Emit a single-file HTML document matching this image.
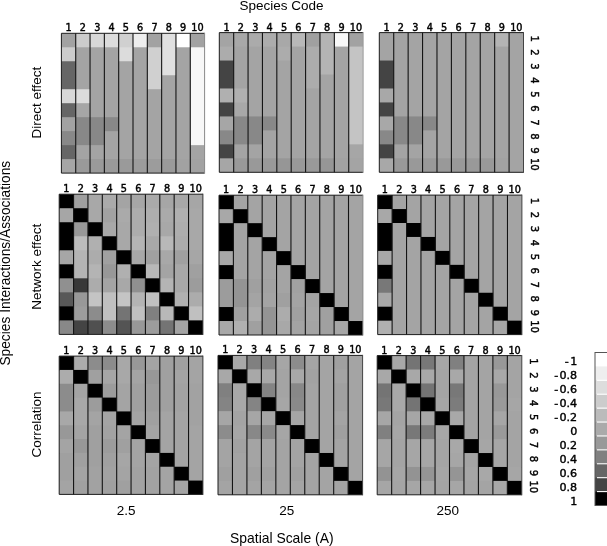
<!DOCTYPE html>
<html><head><meta charset="utf-8"><title>Species interactions heatmaps</title>
<style>
html,body{margin:0;padding:0;background:#fff;}
body{width:607px;height:546px;overflow:hidden;}
svg{display:block;}
text{fill:#000;}
</style></head><body>
<svg width="607" height="546" viewBox="0 0 607 546">
<rect width="607" height="546" fill="#fff"/>
<g>
<rect x="61.40" y="33.30" width="15.32" height="14.98" fill="#a2a2a2"/>
<rect x="61.40" y="47.28" width="15.32" height="14.98" fill="#cccccc"/>
<rect x="61.40" y="61.26" width="15.32" height="28.96" fill="#666666"/>
<rect x="61.40" y="89.22" width="15.32" height="14.98" fill="#d8d8d8"/>
<rect x="61.40" y="103.20" width="15.32" height="14.98" fill="#666666"/>
<rect x="61.40" y="117.18" width="15.32" height="14.98" fill="#a2a2a2"/>
<rect x="61.40" y="131.16" width="15.32" height="14.98" fill="#888888"/>
<rect x="61.40" y="145.14" width="15.32" height="14.98" fill="#666666"/>
<rect x="61.40" y="159.12" width="15.32" height="13.98" fill="#a6a6a6"/>
<rect x="75.72" y="33.30" width="15.32" height="14.98" fill="#cccccc"/>
<rect x="75.72" y="47.28" width="15.32" height="42.94" fill="#a4a4a4"/>
<rect x="75.72" y="89.22" width="15.32" height="14.98" fill="#dcdcdc"/>
<rect x="75.72" y="103.20" width="15.32" height="14.98" fill="#a6a6a6"/>
<rect x="75.72" y="117.18" width="15.32" height="28.96" fill="#888888"/>
<rect x="75.72" y="145.14" width="15.32" height="14.98" fill="#a4a4a4"/>
<rect x="75.72" y="159.12" width="15.32" height="13.98" fill="#9a9a9a"/>
<rect x="90.04" y="33.30" width="15.32" height="14.98" fill="#d8d8d8"/>
<rect x="90.04" y="47.28" width="15.32" height="70.90" fill="#a4a4a4"/>
<rect x="90.04" y="117.18" width="15.32" height="28.96" fill="#888888"/>
<rect x="90.04" y="145.14" width="15.32" height="14.98" fill="#a4a4a4"/>
<rect x="90.04" y="159.12" width="15.32" height="13.98" fill="#9a9a9a"/>
<rect x="104.36" y="33.30" width="15.32" height="14.98" fill="#dcdcdc"/>
<rect x="104.36" y="47.28" width="15.32" height="70.90" fill="#a4a4a4"/>
<rect x="104.36" y="117.18" width="15.32" height="14.98" fill="#888888"/>
<rect x="104.36" y="131.16" width="15.32" height="28.96" fill="#a4a4a4"/>
<rect x="104.36" y="159.12" width="15.32" height="13.98" fill="#9a9a9a"/>
<rect x="118.68" y="33.30" width="15.32" height="14.98" fill="#d0d0d0"/>
<rect x="118.68" y="47.28" width="15.32" height="14.98" fill="#dcdcdc"/>
<rect x="118.68" y="61.26" width="15.32" height="98.86" fill="#a4a4a4"/>
<rect x="118.68" y="159.12" width="15.32" height="13.98" fill="#9a9a9a"/>
<rect x="133.00" y="33.30" width="15.32" height="14.98" fill="#eeeeee"/>
<rect x="133.00" y="47.28" width="15.32" height="112.84" fill="#a4a4a4"/>
<rect x="133.00" y="159.12" width="15.32" height="13.98" fill="#9c9c9c"/>
<rect x="147.32" y="33.30" width="15.32" height="14.98" fill="#a2a2a2"/>
<rect x="147.32" y="47.28" width="15.32" height="42.94" fill="#d0d0d0"/>
<rect x="147.32" y="89.22" width="15.32" height="70.90" fill="#a4a4a4"/>
<rect x="147.32" y="159.12" width="15.32" height="13.98" fill="#9c9c9c"/>
<rect x="161.64" y="33.30" width="15.32" height="42.94" fill="#e0e0e0"/>
<rect x="161.64" y="75.24" width="15.32" height="84.88" fill="#a4a4a4"/>
<rect x="161.64" y="159.12" width="15.32" height="13.98" fill="#9a9a9a"/>
<rect x="175.96" y="33.30" width="15.32" height="14.98" fill="#ffffff"/>
<rect x="175.96" y="47.28" width="15.32" height="112.84" fill="#a4a4a4"/>
<rect x="175.96" y="159.12" width="15.32" height="13.98" fill="#a2a2a2"/>
<rect x="190.28" y="33.30" width="14.32" height="14.98" fill="#a2a2a2"/>
<rect x="190.28" y="47.28" width="14.32" height="98.86" fill="#f7f7f7"/>
<rect x="190.28" y="145.14" width="14.32" height="14.98" fill="#a4a4a4"/>
<rect x="190.28" y="159.12" width="14.32" height="13.98" fill="#a2a2a2"/>
<line x1="75.72" y1="33.30" x2="75.72" y2="173.10" stroke="#141414" stroke-width="1.1"/>
<line x1="90.04" y1="33.30" x2="90.04" y2="173.10" stroke="#141414" stroke-width="1.1"/>
<line x1="104.36" y1="33.30" x2="104.36" y2="173.10" stroke="#141414" stroke-width="1.1"/>
<line x1="118.68" y1="33.30" x2="118.68" y2="173.10" stroke="#141414" stroke-width="1.1"/>
<line x1="133.00" y1="33.30" x2="133.00" y2="173.10" stroke="#141414" stroke-width="1.1"/>
<line x1="147.32" y1="33.30" x2="147.32" y2="173.10" stroke="#141414" stroke-width="1.1"/>
<line x1="161.64" y1="33.30" x2="161.64" y2="173.10" stroke="#141414" stroke-width="1.1"/>
<line x1="175.96" y1="33.30" x2="175.96" y2="173.10" stroke="#141414" stroke-width="1.1"/>
<line x1="190.28" y1="33.30" x2="190.28" y2="173.10" stroke="#141414" stroke-width="1.1"/>
<path d="M204.60 33.30H61.40V173.10H204.60" fill="none" stroke="#1c1c1c" stroke-width="1"/>
<line x1="204.60" y1="32.80" x2="204.60" y2="173.60" stroke="#888" stroke-width="1"/>
<text transform="translate(68.56,31.40) scale(0.95,1)" text-anchor="middle" font-size="10.2" stroke="#000" stroke-width="0.45" font-family="DejaVu Sans, Liberation Sans, sans-serif">1</text>
<text transform="translate(82.88,31.40) scale(0.95,1)" text-anchor="middle" font-size="10.2" stroke="#000" stroke-width="0.45" font-family="DejaVu Sans, Liberation Sans, sans-serif">2</text>
<text transform="translate(97.20,31.40) scale(0.95,1)" text-anchor="middle" font-size="10.2" stroke="#000" stroke-width="0.45" font-family="DejaVu Sans, Liberation Sans, sans-serif">3</text>
<text transform="translate(111.52,31.40) scale(0.95,1)" text-anchor="middle" font-size="10.2" stroke="#000" stroke-width="0.45" font-family="DejaVu Sans, Liberation Sans, sans-serif">4</text>
<text transform="translate(125.84,31.40) scale(0.95,1)" text-anchor="middle" font-size="10.2" stroke="#000" stroke-width="0.45" font-family="DejaVu Sans, Liberation Sans, sans-serif">5</text>
<text transform="translate(140.16,31.40) scale(0.95,1)" text-anchor="middle" font-size="10.2" stroke="#000" stroke-width="0.45" font-family="DejaVu Sans, Liberation Sans, sans-serif">6</text>
<text transform="translate(154.48,31.40) scale(0.95,1)" text-anchor="middle" font-size="10.2" stroke="#000" stroke-width="0.45" font-family="DejaVu Sans, Liberation Sans, sans-serif">7</text>
<text transform="translate(168.80,31.40) scale(0.95,1)" text-anchor="middle" font-size="10.2" stroke="#000" stroke-width="0.45" font-family="DejaVu Sans, Liberation Sans, sans-serif">8</text>
<text transform="translate(183.12,31.40) scale(0.95,1)" text-anchor="middle" font-size="10.2" stroke="#000" stroke-width="0.45" font-family="DejaVu Sans, Liberation Sans, sans-serif">9</text>
<text transform="translate(197.44,31.40) scale(0.95,1)" text-anchor="middle" font-size="10.2" stroke="#000" stroke-width="0.45" font-family="DejaVu Sans, Liberation Sans, sans-serif">10</text>
</g>
<g>
<rect x="219.30" y="32.60" width="15.38" height="14.97" fill="#a4a4a4"/>
<rect x="219.30" y="46.57" width="15.38" height="14.97" fill="#acacac"/>
<rect x="219.30" y="60.54" width="15.38" height="28.94" fill="#444444"/>
<rect x="219.30" y="88.48" width="15.38" height="14.97" fill="#b0b0b0"/>
<rect x="219.30" y="102.45" width="15.38" height="14.97" fill="#444444"/>
<rect x="219.30" y="116.42" width="15.38" height="14.97" fill="#a6a6a6"/>
<rect x="219.30" y="130.39" width="15.38" height="14.97" fill="#888888"/>
<rect x="219.30" y="144.36" width="15.38" height="14.97" fill="#444444"/>
<rect x="219.30" y="158.33" width="15.38" height="13.97" fill="#a6a6a6"/>
<rect x="233.68" y="32.60" width="15.38" height="14.97" fill="#a8a8a8"/>
<rect x="233.68" y="46.57" width="15.38" height="42.91" fill="#a4a4a4"/>
<rect x="233.68" y="88.48" width="15.38" height="14.97" fill="#b0b0b0"/>
<rect x="233.68" y="102.45" width="15.38" height="14.97" fill="#a8a8a8"/>
<rect x="233.68" y="116.42" width="15.38" height="28.94" fill="#888888"/>
<rect x="233.68" y="144.36" width="15.38" height="14.97" fill="#a4a4a4"/>
<rect x="233.68" y="158.33" width="15.38" height="13.97" fill="#999999"/>
<rect x="248.06" y="32.60" width="15.38" height="14.97" fill="#ababab"/>
<rect x="248.06" y="46.57" width="15.38" height="70.85" fill="#a4a4a4"/>
<rect x="248.06" y="116.42" width="15.38" height="28.94" fill="#888888"/>
<rect x="248.06" y="144.36" width="15.38" height="14.97" fill="#a4a4a4"/>
<rect x="248.06" y="158.33" width="15.38" height="13.97" fill="#999999"/>
<rect x="262.44" y="32.60" width="15.38" height="14.97" fill="#acacac"/>
<rect x="262.44" y="46.57" width="15.38" height="70.85" fill="#a4a4a4"/>
<rect x="262.44" y="116.42" width="15.38" height="14.97" fill="#888888"/>
<rect x="262.44" y="130.39" width="15.38" height="28.94" fill="#a4a4a4"/>
<rect x="262.44" y="158.33" width="15.38" height="13.97" fill="#999999"/>
<rect x="276.82" y="32.60" width="15.38" height="14.97" fill="#a8a8a8"/>
<rect x="276.82" y="46.57" width="15.38" height="14.97" fill="#acacac"/>
<rect x="276.82" y="60.54" width="15.38" height="98.79" fill="#a4a4a4"/>
<rect x="276.82" y="158.33" width="15.38" height="13.97" fill="#969696"/>
<rect x="291.20" y="32.60" width="15.38" height="14.97" fill="#b8b8b8"/>
<rect x="291.20" y="46.57" width="15.38" height="112.76" fill="#a4a4a4"/>
<rect x="291.20" y="158.33" width="15.38" height="13.97" fill="#999999"/>
<rect x="305.58" y="32.60" width="15.38" height="14.97" fill="#a0a0a0"/>
<rect x="305.58" y="46.57" width="15.38" height="42.91" fill="#acacac"/>
<rect x="305.58" y="88.48" width="15.38" height="70.85" fill="#a4a4a4"/>
<rect x="305.58" y="158.33" width="15.38" height="13.97" fill="#999999"/>
<rect x="319.96" y="32.60" width="15.38" height="42.91" fill="#b4b4b4"/>
<rect x="319.96" y="74.51" width="15.38" height="84.82" fill="#a4a4a4"/>
<rect x="319.96" y="158.33" width="15.38" height="13.97" fill="#969696"/>
<rect x="334.34" y="32.60" width="15.38" height="14.97" fill="#f8f8f8"/>
<rect x="334.34" y="46.57" width="15.38" height="112.76" fill="#a4a4a4"/>
<rect x="334.34" y="158.33" width="15.38" height="13.97" fill="#a2a2a2"/>
<rect x="348.72" y="32.60" width="14.38" height="14.97" fill="#a2a2a2"/>
<rect x="348.72" y="46.57" width="14.38" height="98.79" fill="#c4c4c4"/>
<rect x="348.72" y="144.36" width="14.38" height="14.97" fill="#a6a6a6"/>
<rect x="348.72" y="158.33" width="14.38" height="13.97" fill="#a4a4a4"/>
<line x1="233.68" y1="32.60" x2="233.68" y2="172.30" stroke="#141414" stroke-width="1.1"/>
<line x1="248.06" y1="32.60" x2="248.06" y2="172.30" stroke="#141414" stroke-width="1.1"/>
<line x1="262.44" y1="32.60" x2="262.44" y2="172.30" stroke="#141414" stroke-width="1.1"/>
<line x1="276.82" y1="32.60" x2="276.82" y2="172.30" stroke="#141414" stroke-width="1.1"/>
<line x1="291.20" y1="32.60" x2="291.20" y2="172.30" stroke="#141414" stroke-width="1.1"/>
<line x1="305.58" y1="32.60" x2="305.58" y2="172.30" stroke="#141414" stroke-width="1.1"/>
<line x1="319.96" y1="32.60" x2="319.96" y2="172.30" stroke="#141414" stroke-width="1.1"/>
<line x1="334.34" y1="32.60" x2="334.34" y2="172.30" stroke="#141414" stroke-width="1.1"/>
<line x1="348.72" y1="32.60" x2="348.72" y2="172.30" stroke="#141414" stroke-width="1.1"/>
<path d="M363.10 32.60H219.30V172.30H363.10" fill="none" stroke="#1c1c1c" stroke-width="1"/>
<line x1="363.10" y1="32.10" x2="363.10" y2="172.80" stroke="#999" stroke-width="1"/>
<text transform="translate(226.49,30.50) scale(0.95,1)" text-anchor="middle" font-size="10.2" stroke="#000" stroke-width="0.45" font-family="DejaVu Sans, Liberation Sans, sans-serif">1</text>
<text transform="translate(240.87,30.50) scale(0.95,1)" text-anchor="middle" font-size="10.2" stroke="#000" stroke-width="0.45" font-family="DejaVu Sans, Liberation Sans, sans-serif">2</text>
<text transform="translate(255.25,30.50) scale(0.95,1)" text-anchor="middle" font-size="10.2" stroke="#000" stroke-width="0.45" font-family="DejaVu Sans, Liberation Sans, sans-serif">3</text>
<text transform="translate(269.63,30.50) scale(0.95,1)" text-anchor="middle" font-size="10.2" stroke="#000" stroke-width="0.45" font-family="DejaVu Sans, Liberation Sans, sans-serif">4</text>
<text transform="translate(284.01,30.50) scale(0.95,1)" text-anchor="middle" font-size="10.2" stroke="#000" stroke-width="0.45" font-family="DejaVu Sans, Liberation Sans, sans-serif">5</text>
<text transform="translate(298.39,30.50) scale(0.95,1)" text-anchor="middle" font-size="10.2" stroke="#000" stroke-width="0.45" font-family="DejaVu Sans, Liberation Sans, sans-serif">6</text>
<text transform="translate(312.77,30.50) scale(0.95,1)" text-anchor="middle" font-size="10.2" stroke="#000" stroke-width="0.45" font-family="DejaVu Sans, Liberation Sans, sans-serif">7</text>
<text transform="translate(327.15,30.50) scale(0.95,1)" text-anchor="middle" font-size="10.2" stroke="#000" stroke-width="0.45" font-family="DejaVu Sans, Liberation Sans, sans-serif">8</text>
<text transform="translate(341.53,30.50) scale(0.95,1)" text-anchor="middle" font-size="10.2" stroke="#000" stroke-width="0.45" font-family="DejaVu Sans, Liberation Sans, sans-serif">9</text>
<text transform="translate(355.91,30.50) scale(0.95,1)" text-anchor="middle" font-size="10.2" stroke="#000" stroke-width="0.45" font-family="DejaVu Sans, Liberation Sans, sans-serif">10</text>
</g>
<g>
<rect x="379.30" y="32.60" width="15.42" height="28.94" fill="#a4a4a4"/>
<rect x="379.30" y="60.54" width="15.42" height="28.94" fill="#444444"/>
<rect x="379.30" y="88.48" width="15.42" height="14.97" fill="#a8a8a8"/>
<rect x="379.30" y="102.45" width="15.42" height="14.97" fill="#444444"/>
<rect x="379.30" y="116.42" width="15.42" height="14.97" fill="#a8a8a8"/>
<rect x="379.30" y="130.39" width="15.42" height="14.97" fill="#888888"/>
<rect x="379.30" y="144.36" width="15.42" height="14.97" fill="#444444"/>
<rect x="379.30" y="158.33" width="15.42" height="13.97" fill="#a8a8a8"/>
<rect x="393.72" y="32.60" width="15.42" height="84.82" fill="#a4a4a4"/>
<rect x="393.72" y="116.42" width="15.42" height="28.94" fill="#888888"/>
<rect x="393.72" y="144.36" width="15.42" height="14.97" fill="#a4a4a4"/>
<rect x="393.72" y="158.33" width="15.42" height="13.97" fill="#999999"/>
<rect x="408.14" y="32.60" width="15.42" height="84.82" fill="#a4a4a4"/>
<rect x="408.14" y="116.42" width="15.42" height="28.94" fill="#888888"/>
<rect x="408.14" y="144.36" width="15.42" height="14.97" fill="#a4a4a4"/>
<rect x="408.14" y="158.33" width="15.42" height="13.97" fill="#999999"/>
<rect x="422.56" y="32.60" width="15.42" height="84.82" fill="#a4a4a4"/>
<rect x="422.56" y="116.42" width="15.42" height="14.97" fill="#888888"/>
<rect x="422.56" y="130.39" width="15.42" height="28.94" fill="#a4a4a4"/>
<rect x="422.56" y="158.33" width="15.42" height="13.97" fill="#999999"/>
<rect x="436.98" y="32.60" width="15.42" height="126.73" fill="#a4a4a4"/>
<rect x="436.98" y="158.33" width="15.42" height="13.97" fill="#999999"/>
<rect x="451.40" y="32.60" width="15.42" height="126.73" fill="#a4a4a4"/>
<rect x="451.40" y="158.33" width="15.42" height="13.97" fill="#999999"/>
<rect x="465.82" y="32.60" width="15.42" height="126.73" fill="#a4a4a4"/>
<rect x="465.82" y="158.33" width="15.42" height="13.97" fill="#999999"/>
<rect x="480.24" y="32.60" width="15.42" height="126.73" fill="#a4a4a4"/>
<rect x="480.24" y="158.33" width="15.42" height="13.97" fill="#999999"/>
<rect x="494.66" y="32.60" width="15.42" height="14.97" fill="#b4b4b4"/>
<rect x="494.66" y="46.57" width="15.42" height="112.76" fill="#a4a4a4"/>
<rect x="494.66" y="158.33" width="15.42" height="13.97" fill="#a2a2a2"/>
<rect x="509.08" y="32.60" width="14.42" height="139.70" fill="#a4a4a4"/>
<line x1="393.72" y1="32.60" x2="393.72" y2="172.30" stroke="#141414" stroke-width="1.1"/>
<line x1="408.14" y1="32.60" x2="408.14" y2="172.30" stroke="#141414" stroke-width="1.1"/>
<line x1="422.56" y1="32.60" x2="422.56" y2="172.30" stroke="#141414" stroke-width="1.1"/>
<line x1="436.98" y1="32.60" x2="436.98" y2="172.30" stroke="#141414" stroke-width="1.1"/>
<line x1="451.40" y1="32.60" x2="451.40" y2="172.30" stroke="#141414" stroke-width="1.1"/>
<line x1="465.82" y1="32.60" x2="465.82" y2="172.30" stroke="#141414" stroke-width="1.1"/>
<line x1="480.24" y1="32.60" x2="480.24" y2="172.30" stroke="#141414" stroke-width="1.1"/>
<line x1="494.66" y1="32.60" x2="494.66" y2="172.30" stroke="#141414" stroke-width="1.1"/>
<line x1="509.08" y1="32.60" x2="509.08" y2="172.30" stroke="#141414" stroke-width="1.1"/>
<path d="M523.50 32.60H379.30V172.30H523.50" fill="none" stroke="#1c1c1c" stroke-width="1"/>
<line x1="523.50" y1="32.10" x2="523.50" y2="172.80" stroke="#444" stroke-width="1"/>
<text transform="translate(386.51,30.50) scale(0.95,1)" text-anchor="middle" font-size="10.2" stroke="#000" stroke-width="0.45" font-family="DejaVu Sans, Liberation Sans, sans-serif">1</text>
<text transform="translate(400.93,30.50) scale(0.95,1)" text-anchor="middle" font-size="10.2" stroke="#000" stroke-width="0.45" font-family="DejaVu Sans, Liberation Sans, sans-serif">2</text>
<text transform="translate(415.35,30.50) scale(0.95,1)" text-anchor="middle" font-size="10.2" stroke="#000" stroke-width="0.45" font-family="DejaVu Sans, Liberation Sans, sans-serif">3</text>
<text transform="translate(429.77,30.50) scale(0.95,1)" text-anchor="middle" font-size="10.2" stroke="#000" stroke-width="0.45" font-family="DejaVu Sans, Liberation Sans, sans-serif">4</text>
<text transform="translate(444.19,30.50) scale(0.95,1)" text-anchor="middle" font-size="10.2" stroke="#000" stroke-width="0.45" font-family="DejaVu Sans, Liberation Sans, sans-serif">5</text>
<text transform="translate(458.61,30.50) scale(0.95,1)" text-anchor="middle" font-size="10.2" stroke="#000" stroke-width="0.45" font-family="DejaVu Sans, Liberation Sans, sans-serif">6</text>
<text transform="translate(473.03,30.50) scale(0.95,1)" text-anchor="middle" font-size="10.2" stroke="#000" stroke-width="0.45" font-family="DejaVu Sans, Liberation Sans, sans-serif">7</text>
<text transform="translate(487.45,30.50) scale(0.95,1)" text-anchor="middle" font-size="10.2" stroke="#000" stroke-width="0.45" font-family="DejaVu Sans, Liberation Sans, sans-serif">8</text>
<text transform="translate(501.87,30.50) scale(0.95,1)" text-anchor="middle" font-size="10.2" stroke="#000" stroke-width="0.45" font-family="DejaVu Sans, Liberation Sans, sans-serif">9</text>
<text transform="translate(516.29,30.50) scale(0.95,1)" text-anchor="middle" font-size="10.2" stroke="#000" stroke-width="0.45" font-family="DejaVu Sans, Liberation Sans, sans-serif">10</text>
<text transform="translate(531.10,38.59) rotate(90) scale(0.9,1)" text-anchor="middle" font-size="11.2" stroke="#000" stroke-width="0.45" font-family="DejaVu Sans, Liberation Sans, sans-serif">1</text>
<text transform="translate(531.10,52.56) rotate(90) scale(0.9,1)" text-anchor="middle" font-size="11.2" stroke="#000" stroke-width="0.45" font-family="DejaVu Sans, Liberation Sans, sans-serif">2</text>
<text transform="translate(531.10,66.53) rotate(90) scale(0.9,1)" text-anchor="middle" font-size="11.2" stroke="#000" stroke-width="0.45" font-family="DejaVu Sans, Liberation Sans, sans-serif">3</text>
<text transform="translate(531.10,80.50) rotate(90) scale(0.9,1)" text-anchor="middle" font-size="11.2" stroke="#000" stroke-width="0.45" font-family="DejaVu Sans, Liberation Sans, sans-serif">4</text>
<text transform="translate(531.10,94.47) rotate(90) scale(0.9,1)" text-anchor="middle" font-size="11.2" stroke="#000" stroke-width="0.45" font-family="DejaVu Sans, Liberation Sans, sans-serif">5</text>
<text transform="translate(531.10,108.44) rotate(90) scale(0.9,1)" text-anchor="middle" font-size="11.2" stroke="#000" stroke-width="0.45" font-family="DejaVu Sans, Liberation Sans, sans-serif">6</text>
<text transform="translate(531.10,122.41) rotate(90) scale(0.9,1)" text-anchor="middle" font-size="11.2" stroke="#000" stroke-width="0.45" font-family="DejaVu Sans, Liberation Sans, sans-serif">7</text>
<text transform="translate(531.10,136.38) rotate(90) scale(0.9,1)" text-anchor="middle" font-size="11.2" stroke="#000" stroke-width="0.45" font-family="DejaVu Sans, Liberation Sans, sans-serif">8</text>
<text transform="translate(531.10,150.35) rotate(90) scale(0.9,1)" text-anchor="middle" font-size="11.2" stroke="#000" stroke-width="0.45" font-family="DejaVu Sans, Liberation Sans, sans-serif">9</text>
<text transform="translate(531.10,164.32) rotate(90) scale(0.9,1)" text-anchor="middle" font-size="11.2" stroke="#000" stroke-width="0.45" font-family="DejaVu Sans, Liberation Sans, sans-serif">10</text>
</g>
<g>
<rect x="59.20" y="194.20" width="15.37" height="15.02" fill="#000000"/>
<rect x="59.20" y="208.22" width="15.37" height="15.02" fill="#a6a6a6"/>
<rect x="59.20" y="222.24" width="15.37" height="29.04" fill="#000000"/>
<rect x="59.20" y="250.28" width="15.37" height="15.02" fill="#a6a6a6"/>
<rect x="59.20" y="264.30" width="15.37" height="15.02" fill="#000000"/>
<rect x="59.20" y="278.32" width="15.37" height="15.02" fill="#909090"/>
<rect x="59.20" y="292.34" width="15.37" height="15.02" fill="#585858"/>
<rect x="59.20" y="306.36" width="15.37" height="15.02" fill="#000000"/>
<rect x="59.20" y="320.38" width="15.37" height="14.02" fill="#888888"/>
<rect x="73.57" y="194.20" width="15.37" height="15.02" fill="#a0a0a0"/>
<rect x="73.57" y="208.22" width="15.37" height="15.02" fill="#000000"/>
<rect x="73.57" y="222.24" width="15.37" height="15.02" fill="#989898"/>
<rect x="73.57" y="236.26" width="15.37" height="15.02" fill="#bcbcbc"/>
<rect x="73.57" y="250.28" width="15.37" height="29.04" fill="#b4b4b4"/>
<rect x="73.57" y="278.32" width="15.37" height="15.02" fill="#383838"/>
<rect x="73.57" y="292.34" width="15.37" height="15.02" fill="#989898"/>
<rect x="73.57" y="306.36" width="15.37" height="15.02" fill="#9c9c9c"/>
<rect x="73.57" y="320.38" width="15.37" height="14.02" fill="#444444"/>
<rect x="87.94" y="194.20" width="15.37" height="29.04" fill="#a8a8a8"/>
<rect x="87.94" y="222.24" width="15.37" height="15.02" fill="#000000"/>
<rect x="87.94" y="236.26" width="15.37" height="15.02" fill="#b0b0b0"/>
<rect x="87.94" y="250.28" width="15.37" height="15.02" fill="#acacac"/>
<rect x="87.94" y="264.30" width="15.37" height="15.02" fill="#b4b4b4"/>
<rect x="87.94" y="278.32" width="15.37" height="15.02" fill="#acacac"/>
<rect x="87.94" y="292.34" width="15.37" height="15.02" fill="#c4c4c4"/>
<rect x="87.94" y="306.36" width="15.37" height="15.02" fill="#8c8c8c"/>
<rect x="87.94" y="320.38" width="15.37" height="14.02" fill="#505050"/>
<rect x="102.31" y="194.20" width="15.37" height="15.02" fill="#aaaaaa"/>
<rect x="102.31" y="208.22" width="15.37" height="15.02" fill="#a2a2a2"/>
<rect x="102.31" y="222.24" width="15.37" height="15.02" fill="#a8a8a8"/>
<rect x="102.31" y="236.26" width="15.37" height="15.02" fill="#000000"/>
<rect x="102.31" y="250.28" width="15.37" height="15.02" fill="#a0a0a0"/>
<rect x="102.31" y="264.30" width="15.37" height="15.02" fill="#989898"/>
<rect x="102.31" y="278.32" width="15.37" height="15.02" fill="#a4a4a4"/>
<rect x="102.31" y="292.34" width="15.37" height="29.04" fill="#c0c0c0"/>
<rect x="102.31" y="320.38" width="15.37" height="14.02" fill="#8c8c8c"/>
<rect x="116.68" y="194.20" width="15.37" height="15.02" fill="#a4a4a4"/>
<rect x="116.68" y="208.22" width="15.37" height="15.02" fill="#aaaaaa"/>
<rect x="116.68" y="222.24" width="15.37" height="29.04" fill="#a8a8a8"/>
<rect x="116.68" y="250.28" width="15.37" height="15.02" fill="#000000"/>
<rect x="116.68" y="264.30" width="15.37" height="15.02" fill="#b0b0b0"/>
<rect x="116.68" y="278.32" width="15.37" height="15.02" fill="#a8a8a8"/>
<rect x="116.68" y="292.34" width="15.37" height="15.02" fill="#c4c4c4"/>
<rect x="116.68" y="306.36" width="15.37" height="15.02" fill="#747474"/>
<rect x="116.68" y="320.38" width="15.37" height="14.02" fill="#545454"/>
<rect x="131.05" y="194.20" width="15.37" height="15.02" fill="#a6a6a6"/>
<rect x="131.05" y="208.22" width="15.37" height="29.04" fill="#acacac"/>
<rect x="131.05" y="236.26" width="15.37" height="15.02" fill="#b4b4b4"/>
<rect x="131.05" y="250.28" width="15.37" height="15.02" fill="#a8a8a8"/>
<rect x="131.05" y="264.30" width="15.37" height="15.02" fill="#000000"/>
<rect x="131.05" y="278.32" width="15.37" height="15.02" fill="#909090"/>
<rect x="131.05" y="292.34" width="15.37" height="15.02" fill="#b4b4b4"/>
<rect x="131.05" y="306.36" width="15.37" height="15.02" fill="#c0c0c0"/>
<rect x="131.05" y="320.38" width="15.37" height="14.02" fill="#989898"/>
<rect x="145.42" y="194.20" width="15.37" height="15.02" fill="#aaaaaa"/>
<rect x="145.42" y="208.22" width="15.37" height="15.02" fill="#aeaeae"/>
<rect x="145.42" y="222.24" width="15.37" height="15.02" fill="#b0b0b0"/>
<rect x="145.42" y="236.26" width="15.37" height="15.02" fill="#a8a8a8"/>
<rect x="145.42" y="250.28" width="15.37" height="15.02" fill="#a0a0a0"/>
<rect x="145.42" y="264.30" width="15.37" height="15.02" fill="#b8b8b8"/>
<rect x="145.42" y="278.32" width="15.37" height="15.02" fill="#000000"/>
<rect x="145.42" y="292.34" width="15.37" height="15.02" fill="#c0c0c0"/>
<rect x="145.42" y="306.36" width="15.37" height="15.02" fill="#808080"/>
<rect x="145.42" y="320.38" width="15.37" height="14.02" fill="#9c9c9c"/>
<rect x="159.79" y="194.20" width="15.37" height="15.02" fill="#a6a6a6"/>
<rect x="159.79" y="208.22" width="15.37" height="15.02" fill="#aaaaaa"/>
<rect x="159.79" y="222.24" width="15.37" height="15.02" fill="#a8a8a8"/>
<rect x="159.79" y="236.26" width="15.37" height="15.02" fill="#b8b8b8"/>
<rect x="159.79" y="250.28" width="15.37" height="15.02" fill="#a8a8a8"/>
<rect x="159.79" y="264.30" width="15.37" height="15.02" fill="#a4a4a4"/>
<rect x="159.79" y="278.32" width="15.37" height="15.02" fill="#b4b4b4"/>
<rect x="159.79" y="292.34" width="15.37" height="15.02" fill="#000000"/>
<rect x="159.79" y="306.36" width="15.37" height="15.02" fill="#b8b8b8"/>
<rect x="159.79" y="320.38" width="15.37" height="14.02" fill="#747474"/>
<rect x="174.16" y="194.20" width="15.37" height="15.02" fill="#a8a8a8"/>
<rect x="174.16" y="208.22" width="15.37" height="15.02" fill="#b0b0b0"/>
<rect x="174.16" y="222.24" width="15.37" height="15.02" fill="#aeaeae"/>
<rect x="174.16" y="236.26" width="15.37" height="15.02" fill="#acacac"/>
<rect x="174.16" y="250.28" width="15.37" height="15.02" fill="#a0a0a0"/>
<rect x="174.16" y="264.30" width="15.37" height="29.04" fill="#a8a8a8"/>
<rect x="174.16" y="292.34" width="15.37" height="15.02" fill="#b0b0b0"/>
<rect x="174.16" y="306.36" width="15.37" height="15.02" fill="#000000"/>
<rect x="174.16" y="320.38" width="15.37" height="14.02" fill="#a4a4a4"/>
<rect x="188.53" y="194.20" width="14.37" height="15.02" fill="#a6a6a6"/>
<rect x="188.53" y="208.22" width="14.37" height="43.06" fill="#a8a8a8"/>
<rect x="188.53" y="250.28" width="14.37" height="15.02" fill="#a6a6a6"/>
<rect x="188.53" y="264.30" width="14.37" height="15.02" fill="#a0a0a0"/>
<rect x="188.53" y="278.32" width="14.37" height="15.02" fill="#9c9c9c"/>
<rect x="188.53" y="292.34" width="14.37" height="15.02" fill="#acacac"/>
<rect x="188.53" y="306.36" width="14.37" height="15.02" fill="#c0c0c0"/>
<rect x="188.53" y="320.38" width="14.37" height="14.02" fill="#000000"/>
<line x1="73.57" y1="194.20" x2="73.57" y2="334.40" stroke="#141414" stroke-width="1.1"/>
<line x1="87.94" y1="194.20" x2="87.94" y2="334.40" stroke="#141414" stroke-width="1.1"/>
<line x1="102.31" y1="194.20" x2="102.31" y2="334.40" stroke="#141414" stroke-width="1.1"/>
<line x1="116.68" y1="194.20" x2="116.68" y2="334.40" stroke="#141414" stroke-width="1.1"/>
<line x1="131.05" y1="194.20" x2="131.05" y2="334.40" stroke="#141414" stroke-width="1.1"/>
<line x1="145.42" y1="194.20" x2="145.42" y2="334.40" stroke="#141414" stroke-width="1.1"/>
<line x1="159.79" y1="194.20" x2="159.79" y2="334.40" stroke="#141414" stroke-width="1.1"/>
<line x1="174.16" y1="194.20" x2="174.16" y2="334.40" stroke="#141414" stroke-width="1.1"/>
<line x1="188.53" y1="194.20" x2="188.53" y2="334.40" stroke="#141414" stroke-width="1.1"/>
<path d="M202.90 194.20H59.20V334.40H202.90" fill="none" stroke="#1c1c1c" stroke-width="1"/>
<line x1="202.90" y1="193.70" x2="202.90" y2="334.90" stroke="#333" stroke-width="1"/>
<text transform="translate(66.39,191.80) scale(0.95,1)" text-anchor="middle" font-size="10.2" stroke="#000" stroke-width="0.45" font-family="DejaVu Sans, Liberation Sans, sans-serif">1</text>
<text transform="translate(80.75,191.80) scale(0.95,1)" text-anchor="middle" font-size="10.2" stroke="#000" stroke-width="0.45" font-family="DejaVu Sans, Liberation Sans, sans-serif">2</text>
<text transform="translate(95.12,191.80) scale(0.95,1)" text-anchor="middle" font-size="10.2" stroke="#000" stroke-width="0.45" font-family="DejaVu Sans, Liberation Sans, sans-serif">3</text>
<text transform="translate(109.50,191.80) scale(0.95,1)" text-anchor="middle" font-size="10.2" stroke="#000" stroke-width="0.45" font-family="DejaVu Sans, Liberation Sans, sans-serif">4</text>
<text transform="translate(123.86,191.80) scale(0.95,1)" text-anchor="middle" font-size="10.2" stroke="#000" stroke-width="0.45" font-family="DejaVu Sans, Liberation Sans, sans-serif">5</text>
<text transform="translate(138.24,191.80) scale(0.95,1)" text-anchor="middle" font-size="10.2" stroke="#000" stroke-width="0.45" font-family="DejaVu Sans, Liberation Sans, sans-serif">6</text>
<text transform="translate(152.61,191.80) scale(0.95,1)" text-anchor="middle" font-size="10.2" stroke="#000" stroke-width="0.45" font-family="DejaVu Sans, Liberation Sans, sans-serif">7</text>
<text transform="translate(166.97,191.80) scale(0.95,1)" text-anchor="middle" font-size="10.2" stroke="#000" stroke-width="0.45" font-family="DejaVu Sans, Liberation Sans, sans-serif">8</text>
<text transform="translate(181.34,191.80) scale(0.95,1)" text-anchor="middle" font-size="10.2" stroke="#000" stroke-width="0.45" font-family="DejaVu Sans, Liberation Sans, sans-serif">9</text>
<text transform="translate(195.71,191.80) scale(0.95,1)" text-anchor="middle" font-size="10.2" stroke="#000" stroke-width="0.45" font-family="DejaVu Sans, Liberation Sans, sans-serif">10</text>
</g>
<g>
<rect x="219.00" y="195.20" width="15.39" height="14.98" fill="#000000"/>
<rect x="219.00" y="209.18" width="15.39" height="14.98" fill="#a8a8a8"/>
<rect x="219.00" y="223.16" width="15.39" height="28.96" fill="#000000"/>
<rect x="219.00" y="251.12" width="15.39" height="14.98" fill="#a8a8a8"/>
<rect x="219.00" y="265.10" width="15.39" height="14.98" fill="#000000"/>
<rect x="219.00" y="279.08" width="15.39" height="28.96" fill="#9c9c9c"/>
<rect x="219.00" y="307.04" width="15.39" height="14.98" fill="#000000"/>
<rect x="219.00" y="321.02" width="15.39" height="13.98" fill="#a8a8a8"/>
<rect x="233.39" y="195.20" width="15.39" height="14.98" fill="#a4a4a4"/>
<rect x="233.39" y="209.18" width="15.39" height="14.98" fill="#000000"/>
<rect x="233.39" y="223.16" width="15.39" height="56.92" fill="#a4a4a4"/>
<rect x="233.39" y="279.08" width="15.39" height="28.96" fill="#949494"/>
<rect x="233.39" y="307.04" width="15.39" height="14.98" fill="#a0a0a0"/>
<rect x="233.39" y="321.02" width="15.39" height="13.98" fill="#b0b0b0"/>
<rect x="247.78" y="195.20" width="15.39" height="28.96" fill="#a4a4a4"/>
<rect x="247.78" y="223.16" width="15.39" height="14.98" fill="#000000"/>
<rect x="247.78" y="237.14" width="15.39" height="42.94" fill="#a4a4a4"/>
<rect x="247.78" y="279.08" width="15.39" height="14.98" fill="#a0a0a0"/>
<rect x="247.78" y="293.06" width="15.39" height="14.98" fill="#a4a4a4"/>
<rect x="247.78" y="307.04" width="15.39" height="14.98" fill="#acacac"/>
<rect x="247.78" y="321.02" width="15.39" height="13.98" fill="#a0a0a0"/>
<rect x="262.17" y="195.20" width="15.39" height="42.94" fill="#a4a4a4"/>
<rect x="262.17" y="237.14" width="15.39" height="14.98" fill="#000000"/>
<rect x="262.17" y="251.12" width="15.39" height="28.96" fill="#a4a4a4"/>
<rect x="262.17" y="279.08" width="15.39" height="14.98" fill="#a2a2a2"/>
<rect x="262.17" y="293.06" width="15.39" height="14.98" fill="#a4a4a4"/>
<rect x="262.17" y="307.04" width="15.39" height="27.96" fill="#949494"/>
<rect x="276.56" y="195.20" width="15.39" height="56.92" fill="#a4a4a4"/>
<rect x="276.56" y="251.12" width="15.39" height="14.98" fill="#000000"/>
<rect x="276.56" y="265.10" width="15.39" height="28.96" fill="#a4a4a4"/>
<rect x="276.56" y="293.06" width="15.39" height="14.98" fill="#a0a0a0"/>
<rect x="276.56" y="307.04" width="15.39" height="14.98" fill="#acacac"/>
<rect x="276.56" y="321.02" width="15.39" height="13.98" fill="#a8a8a8"/>
<rect x="290.95" y="195.20" width="15.39" height="70.90" fill="#a4a4a4"/>
<rect x="290.95" y="265.10" width="15.39" height="14.98" fill="#000000"/>
<rect x="290.95" y="279.08" width="15.39" height="14.98" fill="#a2a2a2"/>
<rect x="290.95" y="293.06" width="15.39" height="14.98" fill="#a4a4a4"/>
<rect x="290.95" y="307.04" width="15.39" height="14.98" fill="#a0a0a0"/>
<rect x="290.95" y="321.02" width="15.39" height="13.98" fill="#a4a4a4"/>
<rect x="305.34" y="195.20" width="15.39" height="84.88" fill="#a4a4a4"/>
<rect x="305.34" y="279.08" width="15.39" height="14.98" fill="#000000"/>
<rect x="305.34" y="293.06" width="15.39" height="14.98" fill="#a4a4a4"/>
<rect x="305.34" y="307.04" width="15.39" height="14.98" fill="#a6a6a6"/>
<rect x="305.34" y="321.02" width="15.39" height="13.98" fill="#a4a4a4"/>
<rect x="319.73" y="195.20" width="15.39" height="98.86" fill="#a4a4a4"/>
<rect x="319.73" y="293.06" width="15.39" height="14.98" fill="#000000"/>
<rect x="319.73" y="307.04" width="15.39" height="27.96" fill="#a0a0a0"/>
<rect x="334.12" y="195.20" width="15.39" height="112.84" fill="#a4a4a4"/>
<rect x="334.12" y="307.04" width="15.39" height="14.98" fill="#000000"/>
<rect x="334.12" y="321.02" width="15.39" height="13.98" fill="#a6a6a6"/>
<rect x="348.51" y="195.20" width="14.39" height="126.82" fill="#a4a4a4"/>
<rect x="348.51" y="321.02" width="14.39" height="13.98" fill="#000000"/>
<line x1="233.39" y1="195.20" x2="233.39" y2="335.00" stroke="#141414" stroke-width="1.1"/>
<line x1="247.78" y1="195.20" x2="247.78" y2="335.00" stroke="#141414" stroke-width="1.1"/>
<line x1="262.17" y1="195.20" x2="262.17" y2="335.00" stroke="#141414" stroke-width="1.1"/>
<line x1="276.56" y1="195.20" x2="276.56" y2="335.00" stroke="#141414" stroke-width="1.1"/>
<line x1="290.95" y1="195.20" x2="290.95" y2="335.00" stroke="#141414" stroke-width="1.1"/>
<line x1="305.34" y1="195.20" x2="305.34" y2="335.00" stroke="#141414" stroke-width="1.1"/>
<line x1="319.73" y1="195.20" x2="319.73" y2="335.00" stroke="#141414" stroke-width="1.1"/>
<line x1="334.12" y1="195.20" x2="334.12" y2="335.00" stroke="#141414" stroke-width="1.1"/>
<line x1="348.51" y1="195.20" x2="348.51" y2="335.00" stroke="#141414" stroke-width="1.1"/>
<path d="M362.90 195.20H219.00V335.00H362.90" fill="none" stroke="#1c1c1c" stroke-width="1"/>
<line x1="362.90" y1="194.70" x2="362.90" y2="335.50" stroke="#888" stroke-width="1"/>
<text transform="translate(226.19,192.80) scale(0.95,1)" text-anchor="middle" font-size="10.2" stroke="#000" stroke-width="0.45" font-family="DejaVu Sans, Liberation Sans, sans-serif">1</text>
<text transform="translate(240.58,192.80) scale(0.95,1)" text-anchor="middle" font-size="10.2" stroke="#000" stroke-width="0.45" font-family="DejaVu Sans, Liberation Sans, sans-serif">2</text>
<text transform="translate(254.97,192.80) scale(0.95,1)" text-anchor="middle" font-size="10.2" stroke="#000" stroke-width="0.45" font-family="DejaVu Sans, Liberation Sans, sans-serif">3</text>
<text transform="translate(269.37,192.80) scale(0.95,1)" text-anchor="middle" font-size="10.2" stroke="#000" stroke-width="0.45" font-family="DejaVu Sans, Liberation Sans, sans-serif">4</text>
<text transform="translate(283.75,192.80) scale(0.95,1)" text-anchor="middle" font-size="10.2" stroke="#000" stroke-width="0.45" font-family="DejaVu Sans, Liberation Sans, sans-serif">5</text>
<text transform="translate(298.14,192.80) scale(0.95,1)" text-anchor="middle" font-size="10.2" stroke="#000" stroke-width="0.45" font-family="DejaVu Sans, Liberation Sans, sans-serif">6</text>
<text transform="translate(312.53,192.80) scale(0.95,1)" text-anchor="middle" font-size="10.2" stroke="#000" stroke-width="0.45" font-family="DejaVu Sans, Liberation Sans, sans-serif">7</text>
<text transform="translate(326.92,192.80) scale(0.95,1)" text-anchor="middle" font-size="10.2" stroke="#000" stroke-width="0.45" font-family="DejaVu Sans, Liberation Sans, sans-serif">8</text>
<text transform="translate(341.31,192.80) scale(0.95,1)" text-anchor="middle" font-size="10.2" stroke="#000" stroke-width="0.45" font-family="DejaVu Sans, Liberation Sans, sans-serif">9</text>
<text transform="translate(355.70,192.80) scale(0.95,1)" text-anchor="middle" font-size="10.2" stroke="#000" stroke-width="0.45" font-family="DejaVu Sans, Liberation Sans, sans-serif">10</text>
</g>
<g>
<rect x="377.70" y="195.10" width="15.42" height="14.95" fill="#000000"/>
<rect x="377.70" y="209.05" width="15.42" height="14.95" fill="#a8a8a8"/>
<rect x="377.70" y="223.00" width="15.42" height="28.90" fill="#000000"/>
<rect x="377.70" y="250.90" width="15.42" height="14.95" fill="#a8a8a8"/>
<rect x="377.70" y="264.85" width="15.42" height="14.95" fill="#000000"/>
<rect x="377.70" y="278.80" width="15.42" height="14.95" fill="#787878"/>
<rect x="377.70" y="292.75" width="15.42" height="14.95" fill="#a8a8a8"/>
<rect x="377.70" y="306.70" width="15.42" height="14.95" fill="#000000"/>
<rect x="377.70" y="320.65" width="15.42" height="13.95" fill="#b0b0b0"/>
<rect x="392.12" y="195.10" width="15.42" height="14.95" fill="#a4a4a4"/>
<rect x="392.12" y="209.05" width="15.42" height="14.95" fill="#000000"/>
<rect x="392.12" y="223.00" width="15.42" height="111.60" fill="#a4a4a4"/>
<rect x="406.54" y="195.10" width="15.42" height="28.90" fill="#a4a4a4"/>
<rect x="406.54" y="223.00" width="15.42" height="14.95" fill="#000000"/>
<rect x="406.54" y="236.95" width="15.42" height="97.65" fill="#a4a4a4"/>
<rect x="420.96" y="195.10" width="15.42" height="42.85" fill="#a4a4a4"/>
<rect x="420.96" y="236.95" width="15.42" height="14.95" fill="#000000"/>
<rect x="420.96" y="250.90" width="15.42" height="83.70" fill="#a4a4a4"/>
<rect x="435.38" y="195.10" width="15.42" height="56.80" fill="#a4a4a4"/>
<rect x="435.38" y="250.90" width="15.42" height="14.95" fill="#000000"/>
<rect x="435.38" y="264.85" width="15.42" height="69.75" fill="#a4a4a4"/>
<rect x="449.80" y="195.10" width="15.42" height="70.75" fill="#a4a4a4"/>
<rect x="449.80" y="264.85" width="15.42" height="14.95" fill="#000000"/>
<rect x="449.80" y="278.80" width="15.42" height="55.80" fill="#a4a4a4"/>
<rect x="464.22" y="195.10" width="15.42" height="84.70" fill="#a4a4a4"/>
<rect x="464.22" y="278.80" width="15.42" height="14.95" fill="#000000"/>
<rect x="464.22" y="292.75" width="15.42" height="41.85" fill="#a4a4a4"/>
<rect x="478.64" y="195.10" width="15.42" height="98.65" fill="#a4a4a4"/>
<rect x="478.64" y="292.75" width="15.42" height="14.95" fill="#000000"/>
<rect x="478.64" y="306.70" width="15.42" height="27.90" fill="#a4a4a4"/>
<rect x="493.06" y="195.10" width="15.42" height="112.60" fill="#a4a4a4"/>
<rect x="493.06" y="306.70" width="15.42" height="14.95" fill="#000000"/>
<rect x="493.06" y="320.65" width="15.42" height="13.95" fill="#a6a6a6"/>
<rect x="507.48" y="195.10" width="14.42" height="126.55" fill="#a4a4a4"/>
<rect x="507.48" y="320.65" width="14.42" height="13.95" fill="#000000"/>
<line x1="392.12" y1="195.10" x2="392.12" y2="334.60" stroke="#141414" stroke-width="1.1"/>
<line x1="406.54" y1="195.10" x2="406.54" y2="334.60" stroke="#141414" stroke-width="1.1"/>
<line x1="420.96" y1="195.10" x2="420.96" y2="334.60" stroke="#141414" stroke-width="1.1"/>
<line x1="435.38" y1="195.10" x2="435.38" y2="334.60" stroke="#141414" stroke-width="1.1"/>
<line x1="449.80" y1="195.10" x2="449.80" y2="334.60" stroke="#141414" stroke-width="1.1"/>
<line x1="464.22" y1="195.10" x2="464.22" y2="334.60" stroke="#141414" stroke-width="1.1"/>
<line x1="478.64" y1="195.10" x2="478.64" y2="334.60" stroke="#141414" stroke-width="1.1"/>
<line x1="493.06" y1="195.10" x2="493.06" y2="334.60" stroke="#141414" stroke-width="1.1"/>
<line x1="507.48" y1="195.10" x2="507.48" y2="334.60" stroke="#141414" stroke-width="1.1"/>
<path d="M521.90 195.10H377.70V334.60H521.90" fill="none" stroke="#1c1c1c" stroke-width="1"/>
<line x1="521.90" y1="194.60" x2="521.90" y2="335.10" stroke="#444" stroke-width="1"/>
<text transform="translate(384.91,192.80) scale(0.95,1)" text-anchor="middle" font-size="10.2" stroke="#000" stroke-width="0.45" font-family="DejaVu Sans, Liberation Sans, sans-serif">1</text>
<text transform="translate(399.33,192.80) scale(0.95,1)" text-anchor="middle" font-size="10.2" stroke="#000" stroke-width="0.45" font-family="DejaVu Sans, Liberation Sans, sans-serif">2</text>
<text transform="translate(413.75,192.80) scale(0.95,1)" text-anchor="middle" font-size="10.2" stroke="#000" stroke-width="0.45" font-family="DejaVu Sans, Liberation Sans, sans-serif">3</text>
<text transform="translate(428.17,192.80) scale(0.95,1)" text-anchor="middle" font-size="10.2" stroke="#000" stroke-width="0.45" font-family="DejaVu Sans, Liberation Sans, sans-serif">4</text>
<text transform="translate(442.59,192.80) scale(0.95,1)" text-anchor="middle" font-size="10.2" stroke="#000" stroke-width="0.45" font-family="DejaVu Sans, Liberation Sans, sans-serif">5</text>
<text transform="translate(457.01,192.80) scale(0.95,1)" text-anchor="middle" font-size="10.2" stroke="#000" stroke-width="0.45" font-family="DejaVu Sans, Liberation Sans, sans-serif">6</text>
<text transform="translate(471.43,192.80) scale(0.95,1)" text-anchor="middle" font-size="10.2" stroke="#000" stroke-width="0.45" font-family="DejaVu Sans, Liberation Sans, sans-serif">7</text>
<text transform="translate(485.85,192.80) scale(0.95,1)" text-anchor="middle" font-size="10.2" stroke="#000" stroke-width="0.45" font-family="DejaVu Sans, Liberation Sans, sans-serif">8</text>
<text transform="translate(500.27,192.80) scale(0.95,1)" text-anchor="middle" font-size="10.2" stroke="#000" stroke-width="0.45" font-family="DejaVu Sans, Liberation Sans, sans-serif">9</text>
<text transform="translate(514.69,192.80) scale(0.95,1)" text-anchor="middle" font-size="10.2" stroke="#000" stroke-width="0.45" font-family="DejaVu Sans, Liberation Sans, sans-serif">10</text>
<text transform="translate(531.10,201.07) rotate(90) scale(0.9,1)" text-anchor="middle" font-size="11.2" stroke="#000" stroke-width="0.45" font-family="DejaVu Sans, Liberation Sans, sans-serif">1</text>
<text transform="translate(531.10,215.03) rotate(90) scale(0.9,1)" text-anchor="middle" font-size="11.2" stroke="#000" stroke-width="0.45" font-family="DejaVu Sans, Liberation Sans, sans-serif">2</text>
<text transform="translate(531.10,228.97) rotate(90) scale(0.9,1)" text-anchor="middle" font-size="11.2" stroke="#000" stroke-width="0.45" font-family="DejaVu Sans, Liberation Sans, sans-serif">3</text>
<text transform="translate(531.10,242.93) rotate(90) scale(0.9,1)" text-anchor="middle" font-size="11.2" stroke="#000" stroke-width="0.45" font-family="DejaVu Sans, Liberation Sans, sans-serif">4</text>
<text transform="translate(531.10,256.88) rotate(90) scale(0.9,1)" text-anchor="middle" font-size="11.2" stroke="#000" stroke-width="0.45" font-family="DejaVu Sans, Liberation Sans, sans-serif">5</text>
<text transform="translate(531.10,270.83) rotate(90) scale(0.9,1)" text-anchor="middle" font-size="11.2" stroke="#000" stroke-width="0.45" font-family="DejaVu Sans, Liberation Sans, sans-serif">6</text>
<text transform="translate(531.10,284.77) rotate(90) scale(0.9,1)" text-anchor="middle" font-size="11.2" stroke="#000" stroke-width="0.45" font-family="DejaVu Sans, Liberation Sans, sans-serif">7</text>
<text transform="translate(531.10,298.73) rotate(90) scale(0.9,1)" text-anchor="middle" font-size="11.2" stroke="#000" stroke-width="0.45" font-family="DejaVu Sans, Liberation Sans, sans-serif">8</text>
<text transform="translate(531.10,312.68) rotate(90) scale(0.9,1)" text-anchor="middle" font-size="11.2" stroke="#000" stroke-width="0.45" font-family="DejaVu Sans, Liberation Sans, sans-serif">9</text>
<text transform="translate(531.10,326.62) rotate(90) scale(0.9,1)" text-anchor="middle" font-size="11.2" stroke="#000" stroke-width="0.45" font-family="DejaVu Sans, Liberation Sans, sans-serif">10</text>
</g>
<g>
<rect x="59.20" y="356.10" width="15.37" height="14.83" fill="#000000"/>
<rect x="59.20" y="369.93" width="15.37" height="14.83" fill="#acacac"/>
<rect x="59.20" y="383.76" width="15.37" height="28.66" fill="#8c8c8c"/>
<rect x="59.20" y="411.42" width="15.37" height="14.83" fill="#a8a8a8"/>
<rect x="59.20" y="425.25" width="15.37" height="14.83" fill="#989898"/>
<rect x="59.20" y="439.08" width="15.37" height="14.83" fill="#a4a4a4"/>
<rect x="59.20" y="452.91" width="15.37" height="28.66" fill="#a0a0a0"/>
<rect x="59.20" y="480.57" width="15.37" height="13.83" fill="#a4a4a4"/>
<rect x="73.57" y="356.10" width="15.37" height="14.83" fill="#acacac"/>
<rect x="73.57" y="369.93" width="15.37" height="14.83" fill="#000000"/>
<rect x="73.57" y="383.76" width="15.37" height="14.83" fill="#a4a4a4"/>
<rect x="73.57" y="397.59" width="15.37" height="28.66" fill="#a8a8a8"/>
<rect x="73.57" y="425.25" width="15.37" height="14.83" fill="#a4a4a4"/>
<rect x="73.57" y="439.08" width="15.37" height="14.83" fill="#989898"/>
<rect x="73.57" y="452.91" width="15.37" height="14.83" fill="#a0a0a0"/>
<rect x="73.57" y="466.74" width="15.37" height="14.83" fill="#a4a4a4"/>
<rect x="73.57" y="480.57" width="15.37" height="13.83" fill="#a0a0a0"/>
<rect x="87.94" y="356.10" width="15.37" height="14.83" fill="#8c8c8c"/>
<rect x="87.94" y="369.93" width="15.37" height="14.83" fill="#a0a0a0"/>
<rect x="87.94" y="383.76" width="15.37" height="14.83" fill="#000000"/>
<rect x="87.94" y="397.59" width="15.37" height="14.83" fill="#9c9c9c"/>
<rect x="87.94" y="411.42" width="15.37" height="14.83" fill="#a4a4a4"/>
<rect x="87.94" y="425.25" width="15.37" height="42.49" fill="#a0a0a0"/>
<rect x="87.94" y="466.74" width="15.37" height="27.66" fill="#a2a2a2"/>
<rect x="102.31" y="356.10" width="15.37" height="14.83" fill="#8c8c8c"/>
<rect x="102.31" y="369.93" width="15.37" height="14.83" fill="#a6a6a6"/>
<rect x="102.31" y="383.76" width="15.37" height="14.83" fill="#9c9c9c"/>
<rect x="102.31" y="397.59" width="15.37" height="14.83" fill="#000000"/>
<rect x="102.31" y="411.42" width="15.37" height="14.83" fill="#a4a4a4"/>
<rect x="102.31" y="425.25" width="15.37" height="14.83" fill="#a2a2a2"/>
<rect x="102.31" y="439.08" width="15.37" height="14.83" fill="#9c9c9c"/>
<rect x="102.31" y="452.91" width="15.37" height="14.83" fill="#a0a0a0"/>
<rect x="102.31" y="466.74" width="15.37" height="14.83" fill="#a2a2a2"/>
<rect x="102.31" y="480.57" width="15.37" height="13.83" fill="#a0a0a0"/>
<rect x="116.68" y="356.10" width="15.37" height="28.66" fill="#a8a8a8"/>
<rect x="116.68" y="383.76" width="15.37" height="28.66" fill="#a4a4a4"/>
<rect x="116.68" y="411.42" width="15.37" height="14.83" fill="#000000"/>
<rect x="116.68" y="425.25" width="15.37" height="14.83" fill="#a4a4a4"/>
<rect x="116.68" y="439.08" width="15.37" height="14.83" fill="#a0a0a0"/>
<rect x="116.68" y="452.91" width="15.37" height="14.83" fill="#a6a6a6"/>
<rect x="116.68" y="466.74" width="15.37" height="14.83" fill="#a4a4a4"/>
<rect x="116.68" y="480.57" width="15.37" height="13.83" fill="#a0a0a0"/>
<rect x="131.05" y="356.10" width="15.37" height="14.83" fill="#989898"/>
<rect x="131.05" y="369.93" width="15.37" height="14.83" fill="#a4a4a4"/>
<rect x="131.05" y="383.76" width="15.37" height="28.66" fill="#a0a0a0"/>
<rect x="131.05" y="411.42" width="15.37" height="14.83" fill="#a4a4a4"/>
<rect x="131.05" y="425.25" width="15.37" height="14.83" fill="#000000"/>
<rect x="131.05" y="439.08" width="15.37" height="28.66" fill="#a4a4a4"/>
<rect x="131.05" y="466.74" width="15.37" height="27.66" fill="#a2a2a2"/>
<rect x="145.42" y="356.10" width="15.37" height="14.83" fill="#a4a4a4"/>
<rect x="145.42" y="369.93" width="15.37" height="14.83" fill="#989898"/>
<rect x="145.42" y="383.76" width="15.37" height="28.66" fill="#9c9c9c"/>
<rect x="145.42" y="411.42" width="15.37" height="14.83" fill="#a0a0a0"/>
<rect x="145.42" y="425.25" width="15.37" height="14.83" fill="#a4a4a4"/>
<rect x="145.42" y="439.08" width="15.37" height="14.83" fill="#000000"/>
<rect x="145.42" y="452.91" width="15.37" height="14.83" fill="#a4a4a4"/>
<rect x="145.42" y="466.74" width="15.37" height="27.66" fill="#a2a2a2"/>
<rect x="159.79" y="356.10" width="15.37" height="56.32" fill="#a0a0a0"/>
<rect x="159.79" y="411.42" width="15.37" height="42.49" fill="#a4a4a4"/>
<rect x="159.79" y="452.91" width="15.37" height="14.83" fill="#000000"/>
<rect x="159.79" y="466.74" width="15.37" height="27.66" fill="#a4a4a4"/>
<rect x="174.16" y="356.10" width="15.37" height="14.83" fill="#a0a0a0"/>
<rect x="174.16" y="369.93" width="15.37" height="14.83" fill="#a4a4a4"/>
<rect x="174.16" y="383.76" width="15.37" height="28.66" fill="#a2a2a2"/>
<rect x="174.16" y="411.42" width="15.37" height="56.32" fill="#a4a4a4"/>
<rect x="174.16" y="466.74" width="15.37" height="14.83" fill="#000000"/>
<rect x="174.16" y="480.57" width="15.37" height="13.83" fill="#a4a4a4"/>
<rect x="188.53" y="356.10" width="14.37" height="28.66" fill="#a4a4a4"/>
<rect x="188.53" y="383.76" width="14.37" height="42.49" fill="#a2a2a2"/>
<rect x="188.53" y="425.25" width="14.37" height="56.32" fill="#a4a4a4"/>
<rect x="188.53" y="480.57" width="14.37" height="13.83" fill="#000000"/>
<line x1="73.57" y1="356.10" x2="73.57" y2="494.40" stroke="#141414" stroke-width="1.1"/>
<line x1="87.94" y1="356.10" x2="87.94" y2="494.40" stroke="#141414" stroke-width="1.1"/>
<line x1="102.31" y1="356.10" x2="102.31" y2="494.40" stroke="#141414" stroke-width="1.1"/>
<line x1="116.68" y1="356.10" x2="116.68" y2="494.40" stroke="#141414" stroke-width="1.1"/>
<line x1="131.05" y1="356.10" x2="131.05" y2="494.40" stroke="#141414" stroke-width="1.1"/>
<line x1="145.42" y1="356.10" x2="145.42" y2="494.40" stroke="#141414" stroke-width="1.1"/>
<line x1="159.79" y1="356.10" x2="159.79" y2="494.40" stroke="#141414" stroke-width="1.1"/>
<line x1="174.16" y1="356.10" x2="174.16" y2="494.40" stroke="#141414" stroke-width="1.1"/>
<line x1="188.53" y1="356.10" x2="188.53" y2="494.40" stroke="#141414" stroke-width="1.1"/>
<path d="M202.90 356.10H59.20V494.40H202.90" fill="none" stroke="#1c1c1c" stroke-width="1"/>
<line x1="202.90" y1="355.60" x2="202.90" y2="494.90" stroke="#333" stroke-width="1"/>
<text transform="translate(66.39,354.40) scale(0.95,1)" text-anchor="middle" font-size="10.2" stroke="#000" stroke-width="0.45" font-family="DejaVu Sans, Liberation Sans, sans-serif">1</text>
<text transform="translate(80.75,354.40) scale(0.95,1)" text-anchor="middle" font-size="10.2" stroke="#000" stroke-width="0.45" font-family="DejaVu Sans, Liberation Sans, sans-serif">2</text>
<text transform="translate(95.12,354.40) scale(0.95,1)" text-anchor="middle" font-size="10.2" stroke="#000" stroke-width="0.45" font-family="DejaVu Sans, Liberation Sans, sans-serif">3</text>
<text transform="translate(109.50,354.40) scale(0.95,1)" text-anchor="middle" font-size="10.2" stroke="#000" stroke-width="0.45" font-family="DejaVu Sans, Liberation Sans, sans-serif">4</text>
<text transform="translate(123.86,354.40) scale(0.95,1)" text-anchor="middle" font-size="10.2" stroke="#000" stroke-width="0.45" font-family="DejaVu Sans, Liberation Sans, sans-serif">5</text>
<text transform="translate(138.24,354.40) scale(0.95,1)" text-anchor="middle" font-size="10.2" stroke="#000" stroke-width="0.45" font-family="DejaVu Sans, Liberation Sans, sans-serif">6</text>
<text transform="translate(152.61,354.40) scale(0.95,1)" text-anchor="middle" font-size="10.2" stroke="#000" stroke-width="0.45" font-family="DejaVu Sans, Liberation Sans, sans-serif">7</text>
<text transform="translate(166.97,354.40) scale(0.95,1)" text-anchor="middle" font-size="10.2" stroke="#000" stroke-width="0.45" font-family="DejaVu Sans, Liberation Sans, sans-serif">8</text>
<text transform="translate(181.34,354.40) scale(0.95,1)" text-anchor="middle" font-size="10.2" stroke="#000" stroke-width="0.45" font-family="DejaVu Sans, Liberation Sans, sans-serif">9</text>
<text transform="translate(195.71,354.40) scale(0.95,1)" text-anchor="middle" font-size="10.2" stroke="#000" stroke-width="0.45" font-family="DejaVu Sans, Liberation Sans, sans-serif">10</text>
</g>
<g>
<rect x="218.00" y="355.40" width="15.46" height="14.94" fill="#000000"/>
<rect x="218.00" y="369.34" width="15.46" height="14.94" fill="#a8a8a8"/>
<rect x="218.00" y="383.28" width="15.46" height="14.94" fill="#808080"/>
<rect x="218.00" y="397.22" width="15.46" height="14.94" fill="#848484"/>
<rect x="218.00" y="411.16" width="15.46" height="14.94" fill="#a6a6a6"/>
<rect x="218.00" y="425.10" width="15.46" height="14.94" fill="#8c8c8c"/>
<rect x="218.00" y="439.04" width="15.46" height="28.88" fill="#a4a4a4"/>
<rect x="218.00" y="466.92" width="15.46" height="14.94" fill="#a0a0a0"/>
<rect x="218.00" y="480.86" width="15.46" height="13.94" fill="#a4a4a4"/>
<rect x="232.46" y="355.40" width="15.46" height="14.94" fill="#a8a8a8"/>
<rect x="232.46" y="369.34" width="15.46" height="14.94" fill="#000000"/>
<rect x="232.46" y="383.28" width="15.46" height="28.88" fill="#a8a8a8"/>
<rect x="232.46" y="411.16" width="15.46" height="14.94" fill="#a4a4a4"/>
<rect x="232.46" y="425.10" width="15.46" height="14.94" fill="#a6a6a6"/>
<rect x="232.46" y="439.04" width="15.46" height="14.94" fill="#a2a2a2"/>
<rect x="232.46" y="452.98" width="15.46" height="41.82" fill="#a4a4a4"/>
<rect x="246.92" y="355.40" width="15.46" height="14.94" fill="#808080"/>
<rect x="246.92" y="369.34" width="15.46" height="14.94" fill="#a8a8a8"/>
<rect x="246.92" y="383.28" width="15.46" height="14.94" fill="#000000"/>
<rect x="246.92" y="397.22" width="15.46" height="14.94" fill="#848484"/>
<rect x="246.92" y="411.16" width="15.46" height="14.94" fill="#a6a6a6"/>
<rect x="246.92" y="425.10" width="15.46" height="14.94" fill="#888888"/>
<rect x="246.92" y="439.04" width="15.46" height="28.88" fill="#a4a4a4"/>
<rect x="246.92" y="466.92" width="15.46" height="14.94" fill="#a0a0a0"/>
<rect x="246.92" y="480.86" width="15.46" height="13.94" fill="#a4a4a4"/>
<rect x="261.38" y="355.40" width="15.46" height="14.94" fill="#848484"/>
<rect x="261.38" y="369.34" width="15.46" height="14.94" fill="#a8a8a8"/>
<rect x="261.38" y="383.28" width="15.46" height="14.94" fill="#848484"/>
<rect x="261.38" y="397.22" width="15.46" height="14.94" fill="#000000"/>
<rect x="261.38" y="411.16" width="15.46" height="14.94" fill="#a6a6a6"/>
<rect x="261.38" y="425.10" width="15.46" height="14.94" fill="#8a8a8a"/>
<rect x="261.38" y="439.04" width="15.46" height="28.88" fill="#a4a4a4"/>
<rect x="261.38" y="466.92" width="15.46" height="14.94" fill="#a0a0a0"/>
<rect x="261.38" y="480.86" width="15.46" height="13.94" fill="#a4a4a4"/>
<rect x="275.84" y="355.40" width="15.46" height="14.94" fill="#a6a6a6"/>
<rect x="275.84" y="369.34" width="15.46" height="28.88" fill="#a4a4a4"/>
<rect x="275.84" y="397.22" width="15.46" height="14.94" fill="#a6a6a6"/>
<rect x="275.84" y="411.16" width="15.46" height="14.94" fill="#000000"/>
<rect x="275.84" y="425.10" width="15.46" height="14.94" fill="#a6a6a6"/>
<rect x="275.84" y="439.04" width="15.46" height="55.76" fill="#a4a4a4"/>
<rect x="290.30" y="355.40" width="15.46" height="14.94" fill="#8c8c8c"/>
<rect x="290.30" y="369.34" width="15.46" height="14.94" fill="#a8a8a8"/>
<rect x="290.30" y="383.28" width="15.46" height="14.94" fill="#888888"/>
<rect x="290.30" y="397.22" width="15.46" height="14.94" fill="#8a8a8a"/>
<rect x="290.30" y="411.16" width="15.46" height="14.94" fill="#a6a6a6"/>
<rect x="290.30" y="425.10" width="15.46" height="14.94" fill="#000000"/>
<rect x="290.30" y="439.04" width="15.46" height="28.88" fill="#a4a4a4"/>
<rect x="290.30" y="466.92" width="15.46" height="14.94" fill="#a0a0a0"/>
<rect x="290.30" y="480.86" width="15.46" height="13.94" fill="#a4a4a4"/>
<rect x="304.76" y="355.40" width="15.46" height="14.94" fill="#a4a4a4"/>
<rect x="304.76" y="369.34" width="15.46" height="14.94" fill="#a2a2a2"/>
<rect x="304.76" y="383.28" width="15.46" height="56.76" fill="#a4a4a4"/>
<rect x="304.76" y="439.04" width="15.46" height="14.94" fill="#000000"/>
<rect x="304.76" y="452.98" width="15.46" height="41.82" fill="#a4a4a4"/>
<rect x="319.22" y="355.40" width="15.46" height="98.58" fill="#a4a4a4"/>
<rect x="319.22" y="452.98" width="15.46" height="14.94" fill="#000000"/>
<rect x="319.22" y="466.92" width="15.46" height="27.88" fill="#a4a4a4"/>
<rect x="333.68" y="355.40" width="15.46" height="14.94" fill="#a0a0a0"/>
<rect x="333.68" y="369.34" width="15.46" height="14.94" fill="#a4a4a4"/>
<rect x="333.68" y="383.28" width="15.46" height="28.88" fill="#a0a0a0"/>
<rect x="333.68" y="411.16" width="15.46" height="14.94" fill="#a4a4a4"/>
<rect x="333.68" y="425.10" width="15.46" height="14.94" fill="#a0a0a0"/>
<rect x="333.68" y="439.04" width="15.46" height="28.88" fill="#a4a4a4"/>
<rect x="333.68" y="466.92" width="15.46" height="14.94" fill="#000000"/>
<rect x="333.68" y="480.86" width="15.46" height="13.94" fill="#a4a4a4"/>
<rect x="348.14" y="355.40" width="14.46" height="126.46" fill="#a4a4a4"/>
<rect x="348.14" y="480.86" width="14.46" height="13.94" fill="#000000"/>
<line x1="232.46" y1="355.40" x2="232.46" y2="494.80" stroke="#141414" stroke-width="1.1"/>
<line x1="246.92" y1="355.40" x2="246.92" y2="494.80" stroke="#141414" stroke-width="1.1"/>
<line x1="261.38" y1="355.40" x2="261.38" y2="494.80" stroke="#141414" stroke-width="1.1"/>
<line x1="275.84" y1="355.40" x2="275.84" y2="494.80" stroke="#141414" stroke-width="1.1"/>
<line x1="290.30" y1="355.40" x2="290.30" y2="494.80" stroke="#141414" stroke-width="1.1"/>
<line x1="304.76" y1="355.40" x2="304.76" y2="494.80" stroke="#141414" stroke-width="1.1"/>
<line x1="319.22" y1="355.40" x2="319.22" y2="494.80" stroke="#141414" stroke-width="1.1"/>
<line x1="333.68" y1="355.40" x2="333.68" y2="494.80" stroke="#141414" stroke-width="1.1"/>
<line x1="348.14" y1="355.40" x2="348.14" y2="494.80" stroke="#141414" stroke-width="1.1"/>
<path d="M362.60 355.40H218.00V494.80H362.60" fill="none" stroke="#1c1c1c" stroke-width="1"/>
<line x1="362.60" y1="354.90" x2="362.60" y2="495.30" stroke="#444" stroke-width="1"/>
<text transform="translate(225.23,353.10) scale(0.95,1)" text-anchor="middle" font-size="10.2" stroke="#000" stroke-width="0.45" font-family="DejaVu Sans, Liberation Sans, sans-serif">1</text>
<text transform="translate(239.69,353.10) scale(0.95,1)" text-anchor="middle" font-size="10.2" stroke="#000" stroke-width="0.45" font-family="DejaVu Sans, Liberation Sans, sans-serif">2</text>
<text transform="translate(254.15,353.10) scale(0.95,1)" text-anchor="middle" font-size="10.2" stroke="#000" stroke-width="0.45" font-family="DejaVu Sans, Liberation Sans, sans-serif">3</text>
<text transform="translate(268.61,353.10) scale(0.95,1)" text-anchor="middle" font-size="10.2" stroke="#000" stroke-width="0.45" font-family="DejaVu Sans, Liberation Sans, sans-serif">4</text>
<text transform="translate(283.07,353.10) scale(0.95,1)" text-anchor="middle" font-size="10.2" stroke="#000" stroke-width="0.45" font-family="DejaVu Sans, Liberation Sans, sans-serif">5</text>
<text transform="translate(297.53,353.10) scale(0.95,1)" text-anchor="middle" font-size="10.2" stroke="#000" stroke-width="0.45" font-family="DejaVu Sans, Liberation Sans, sans-serif">6</text>
<text transform="translate(311.99,353.10) scale(0.95,1)" text-anchor="middle" font-size="10.2" stroke="#000" stroke-width="0.45" font-family="DejaVu Sans, Liberation Sans, sans-serif">7</text>
<text transform="translate(326.45,353.10) scale(0.95,1)" text-anchor="middle" font-size="10.2" stroke="#000" stroke-width="0.45" font-family="DejaVu Sans, Liberation Sans, sans-serif">8</text>
<text transform="translate(340.91,353.10) scale(0.95,1)" text-anchor="middle" font-size="10.2" stroke="#000" stroke-width="0.45" font-family="DejaVu Sans, Liberation Sans, sans-serif">9</text>
<text transform="translate(355.37,353.10) scale(0.95,1)" text-anchor="middle" font-size="10.2" stroke="#000" stroke-width="0.45" font-family="DejaVu Sans, Liberation Sans, sans-serif">10</text>
</g>
<g>
<rect x="377.20" y="355.60" width="15.46" height="14.92" fill="#000000"/>
<rect x="377.20" y="369.52" width="15.46" height="14.92" fill="#a8a8a8"/>
<rect x="377.20" y="383.44" width="15.46" height="14.92" fill="#747474"/>
<rect x="377.20" y="397.36" width="15.46" height="14.92" fill="#787878"/>
<rect x="377.20" y="411.28" width="15.46" height="14.92" fill="#a6a6a6"/>
<rect x="377.20" y="425.20" width="15.46" height="14.92" fill="#808080"/>
<rect x="377.20" y="439.12" width="15.46" height="28.84" fill="#a6a6a6"/>
<rect x="377.20" y="466.96" width="15.46" height="14.92" fill="#939393"/>
<rect x="377.20" y="480.88" width="15.46" height="13.92" fill="#a6a6a6"/>
<rect x="391.66" y="355.60" width="15.46" height="14.92" fill="#a8a8a8"/>
<rect x="391.66" y="369.52" width="15.46" height="14.92" fill="#000000"/>
<rect x="391.66" y="383.44" width="15.46" height="28.84" fill="#a8a8a8"/>
<rect x="391.66" y="411.28" width="15.46" height="14.92" fill="#a4a4a4"/>
<rect x="391.66" y="425.20" width="15.46" height="14.92" fill="#a6a6a6"/>
<rect x="391.66" y="439.12" width="15.46" height="28.84" fill="#a4a4a4"/>
<rect x="391.66" y="466.96" width="15.46" height="14.92" fill="#a6a6a6"/>
<rect x="391.66" y="480.88" width="15.46" height="13.92" fill="#a4a4a4"/>
<rect x="406.12" y="355.60" width="15.46" height="14.92" fill="#747474"/>
<rect x="406.12" y="369.52" width="15.46" height="14.92" fill="#a8a8a8"/>
<rect x="406.12" y="383.44" width="15.46" height="14.92" fill="#000000"/>
<rect x="406.12" y="397.36" width="15.46" height="14.92" fill="#747474"/>
<rect x="406.12" y="411.28" width="15.46" height="14.92" fill="#a6a6a6"/>
<rect x="406.12" y="425.20" width="15.46" height="14.92" fill="#787878"/>
<rect x="406.12" y="439.12" width="15.46" height="28.84" fill="#a6a6a6"/>
<rect x="406.12" y="466.96" width="15.46" height="14.92" fill="#939393"/>
<rect x="406.12" y="480.88" width="15.46" height="13.92" fill="#a6a6a6"/>
<rect x="420.58" y="355.60" width="15.46" height="14.92" fill="#787878"/>
<rect x="420.58" y="369.52" width="15.46" height="14.92" fill="#a8a8a8"/>
<rect x="420.58" y="383.44" width="15.46" height="14.92" fill="#747474"/>
<rect x="420.58" y="397.36" width="15.46" height="14.92" fill="#000000"/>
<rect x="420.58" y="411.28" width="15.46" height="14.92" fill="#a8a8a8"/>
<rect x="420.58" y="425.20" width="15.46" height="14.92" fill="#7c7c7c"/>
<rect x="420.58" y="439.12" width="15.46" height="28.84" fill="#a6a6a6"/>
<rect x="420.58" y="466.96" width="15.46" height="14.92" fill="#959595"/>
<rect x="420.58" y="480.88" width="15.46" height="13.92" fill="#a6a6a6"/>
<rect x="435.04" y="355.60" width="15.46" height="14.92" fill="#a6a6a6"/>
<rect x="435.04" y="369.52" width="15.46" height="28.84" fill="#a4a4a4"/>
<rect x="435.04" y="397.36" width="15.46" height="14.92" fill="#a6a6a6"/>
<rect x="435.04" y="411.28" width="15.46" height="14.92" fill="#000000"/>
<rect x="435.04" y="425.20" width="15.46" height="14.92" fill="#a6a6a6"/>
<rect x="435.04" y="439.12" width="15.46" height="28.84" fill="#a4a4a4"/>
<rect x="435.04" y="466.96" width="15.46" height="14.92" fill="#a6a6a6"/>
<rect x="435.04" y="480.88" width="15.46" height="13.92" fill="#a4a4a4"/>
<rect x="449.50" y="355.60" width="15.46" height="14.92" fill="#808080"/>
<rect x="449.50" y="369.52" width="15.46" height="14.92" fill="#a8a8a8"/>
<rect x="449.50" y="383.44" width="15.46" height="14.92" fill="#787878"/>
<rect x="449.50" y="397.36" width="15.46" height="14.92" fill="#7c7c7c"/>
<rect x="449.50" y="411.28" width="15.46" height="14.92" fill="#a8a8a8"/>
<rect x="449.50" y="425.20" width="15.46" height="14.92" fill="#000000"/>
<rect x="449.50" y="439.12" width="15.46" height="14.92" fill="#a8a8a8"/>
<rect x="449.50" y="453.04" width="15.46" height="14.92" fill="#a6a6a6"/>
<rect x="449.50" y="466.96" width="15.46" height="14.92" fill="#959595"/>
<rect x="449.50" y="480.88" width="15.46" height="13.92" fill="#a6a6a6"/>
<rect x="463.96" y="355.60" width="15.46" height="84.52" fill="#a4a4a4"/>
<rect x="463.96" y="439.12" width="15.46" height="14.92" fill="#000000"/>
<rect x="463.96" y="453.04" width="15.46" height="14.92" fill="#a4a4a4"/>
<rect x="463.96" y="466.96" width="15.46" height="14.92" fill="#a6a6a6"/>
<rect x="463.96" y="480.88" width="15.46" height="13.92" fill="#a4a4a4"/>
<rect x="478.42" y="355.60" width="15.46" height="84.52" fill="#a4a4a4"/>
<rect x="478.42" y="439.12" width="15.46" height="14.92" fill="#a6a6a6"/>
<rect x="478.42" y="453.04" width="15.46" height="14.92" fill="#000000"/>
<rect x="478.42" y="466.96" width="15.46" height="14.92" fill="#a8a8a8"/>
<rect x="478.42" y="480.88" width="15.46" height="13.92" fill="#a4a4a4"/>
<rect x="492.88" y="355.60" width="15.46" height="14.92" fill="#989898"/>
<rect x="492.88" y="369.52" width="15.46" height="14.92" fill="#a8a8a8"/>
<rect x="492.88" y="383.44" width="15.46" height="14.92" fill="#989898"/>
<rect x="492.88" y="397.36" width="15.46" height="14.92" fill="#9a9a9a"/>
<rect x="492.88" y="411.28" width="15.46" height="14.92" fill="#a6a6a6"/>
<rect x="492.88" y="425.20" width="15.46" height="14.92" fill="#9a9a9a"/>
<rect x="492.88" y="439.12" width="15.46" height="28.84" fill="#a6a6a6"/>
<rect x="492.88" y="466.96" width="15.46" height="14.92" fill="#000000"/>
<rect x="492.88" y="480.88" width="15.46" height="13.92" fill="#a8a8a8"/>
<rect x="507.34" y="355.60" width="14.46" height="42.76" fill="#a4a4a4"/>
<rect x="507.34" y="397.36" width="14.46" height="14.92" fill="#a6a6a6"/>
<rect x="507.34" y="411.28" width="14.46" height="56.68" fill="#a4a4a4"/>
<rect x="507.34" y="466.96" width="14.46" height="14.92" fill="#a6a6a6"/>
<rect x="507.34" y="480.88" width="14.46" height="13.92" fill="#000000"/>
<line x1="391.66" y1="355.60" x2="391.66" y2="494.80" stroke="#141414" stroke-width="1.1"/>
<line x1="406.12" y1="355.60" x2="406.12" y2="494.80" stroke="#141414" stroke-width="1.1"/>
<line x1="420.58" y1="355.60" x2="420.58" y2="494.80" stroke="#141414" stroke-width="1.1"/>
<line x1="435.04" y1="355.60" x2="435.04" y2="494.80" stroke="#141414" stroke-width="1.1"/>
<line x1="449.50" y1="355.60" x2="449.50" y2="494.80" stroke="#141414" stroke-width="1.1"/>
<line x1="463.96" y1="355.60" x2="463.96" y2="494.80" stroke="#141414" stroke-width="1.1"/>
<line x1="478.42" y1="355.60" x2="478.42" y2="494.80" stroke="#141414" stroke-width="1.1"/>
<line x1="492.88" y1="355.60" x2="492.88" y2="494.80" stroke="#141414" stroke-width="1.1"/>
<line x1="507.34" y1="355.60" x2="507.34" y2="494.80" stroke="#141414" stroke-width="1.1"/>
<path d="M521.80 355.60H377.20V494.80H521.80" fill="none" stroke="#1c1c1c" stroke-width="1"/>
<line x1="521.80" y1="355.10" x2="521.80" y2="495.30" stroke="#444" stroke-width="1"/>
<text transform="translate(384.43,353.50) scale(0.95,1)" text-anchor="middle" font-size="10.2" stroke="#000" stroke-width="0.45" font-family="DejaVu Sans, Liberation Sans, sans-serif">1</text>
<text transform="translate(398.89,353.50) scale(0.95,1)" text-anchor="middle" font-size="10.2" stroke="#000" stroke-width="0.45" font-family="DejaVu Sans, Liberation Sans, sans-serif">2</text>
<text transform="translate(413.35,353.50) scale(0.95,1)" text-anchor="middle" font-size="10.2" stroke="#000" stroke-width="0.45" font-family="DejaVu Sans, Liberation Sans, sans-serif">3</text>
<text transform="translate(427.81,353.50) scale(0.95,1)" text-anchor="middle" font-size="10.2" stroke="#000" stroke-width="0.45" font-family="DejaVu Sans, Liberation Sans, sans-serif">4</text>
<text transform="translate(442.27,353.50) scale(0.95,1)" text-anchor="middle" font-size="10.2" stroke="#000" stroke-width="0.45" font-family="DejaVu Sans, Liberation Sans, sans-serif">5</text>
<text transform="translate(456.73,353.50) scale(0.95,1)" text-anchor="middle" font-size="10.2" stroke="#000" stroke-width="0.45" font-family="DejaVu Sans, Liberation Sans, sans-serif">6</text>
<text transform="translate(471.19,353.50) scale(0.95,1)" text-anchor="middle" font-size="10.2" stroke="#000" stroke-width="0.45" font-family="DejaVu Sans, Liberation Sans, sans-serif">7</text>
<text transform="translate(485.65,353.50) scale(0.95,1)" text-anchor="middle" font-size="10.2" stroke="#000" stroke-width="0.45" font-family="DejaVu Sans, Liberation Sans, sans-serif">8</text>
<text transform="translate(500.11,353.50) scale(0.95,1)" text-anchor="middle" font-size="10.2" stroke="#000" stroke-width="0.45" font-family="DejaVu Sans, Liberation Sans, sans-serif">9</text>
<text transform="translate(514.57,353.50) scale(0.95,1)" text-anchor="middle" font-size="10.2" stroke="#000" stroke-width="0.45" font-family="DejaVu Sans, Liberation Sans, sans-serif">10</text>
<text transform="translate(530.20,361.56) rotate(90) scale(0.9,1)" text-anchor="middle" font-size="11.2" stroke="#000" stroke-width="0.45" font-family="DejaVu Sans, Liberation Sans, sans-serif">1</text>
<text transform="translate(530.20,375.48) rotate(90) scale(0.9,1)" text-anchor="middle" font-size="11.2" stroke="#000" stroke-width="0.45" font-family="DejaVu Sans, Liberation Sans, sans-serif">2</text>
<text transform="translate(530.20,389.40) rotate(90) scale(0.9,1)" text-anchor="middle" font-size="11.2" stroke="#000" stroke-width="0.45" font-family="DejaVu Sans, Liberation Sans, sans-serif">3</text>
<text transform="translate(530.20,403.32) rotate(90) scale(0.9,1)" text-anchor="middle" font-size="11.2" stroke="#000" stroke-width="0.45" font-family="DejaVu Sans, Liberation Sans, sans-serif">4</text>
<text transform="translate(530.20,417.24) rotate(90) scale(0.9,1)" text-anchor="middle" font-size="11.2" stroke="#000" stroke-width="0.45" font-family="DejaVu Sans, Liberation Sans, sans-serif">5</text>
<text transform="translate(530.20,431.16) rotate(90) scale(0.9,1)" text-anchor="middle" font-size="11.2" stroke="#000" stroke-width="0.45" font-family="DejaVu Sans, Liberation Sans, sans-serif">6</text>
<text transform="translate(530.20,445.08) rotate(90) scale(0.9,1)" text-anchor="middle" font-size="11.2" stroke="#000" stroke-width="0.45" font-family="DejaVu Sans, Liberation Sans, sans-serif">7</text>
<text transform="translate(530.20,459.00) rotate(90) scale(0.9,1)" text-anchor="middle" font-size="11.2" stroke="#000" stroke-width="0.45" font-family="DejaVu Sans, Liberation Sans, sans-serif">8</text>
<text transform="translate(530.20,472.92) rotate(90) scale(0.9,1)" text-anchor="middle" font-size="11.2" stroke="#000" stroke-width="0.45" font-family="DejaVu Sans, Liberation Sans, sans-serif">9</text>
<text transform="translate(530.20,486.84) rotate(90) scale(0.9,1)" text-anchor="middle" font-size="11.2" stroke="#000" stroke-width="0.45" font-family="DejaVu Sans, Liberation Sans, sans-serif">10</text>
</g>
<text x="281.5" y="10.3" text-anchor="middle" font-size="13.5" font-family="Liberation Sans, sans-serif">Species Code</text>
<text transform="translate(10.0,263.2) rotate(-90)" text-anchor="middle" font-size="13.75" font-family="Liberation Sans, sans-serif">Species Interactions/Associations</text>
<text transform="translate(40.8,102.6) rotate(-90)" text-anchor="middle" font-size="13.5" font-family="Liberation Sans, sans-serif">Direct effect</text>
<text transform="translate(40.8,266.7) rotate(-90)" text-anchor="middle" font-size="13.5" font-family="Liberation Sans, sans-serif">Network effect</text>
<text transform="translate(40.8,424.4) rotate(-90)" text-anchor="middle" font-size="13.5" font-family="Liberation Sans, sans-serif">Correlation</text>
<text x="126.1" y="515.3" text-anchor="middle" font-size="13.5" font-family="Liberation Sans, sans-serif">2.5</text>
<text x="286.7" y="515.3" text-anchor="middle" font-size="13.5" font-family="Liberation Sans, sans-serif">25</text>
<text x="447.8" y="515.3" text-anchor="middle" font-size="13.5" font-family="Liberation Sans, sans-serif">250</text>
<text x="281.8" y="542.9" text-anchor="middle" font-size="13.9" font-family="Liberation Sans, sans-serif">Spatial Scale (A)</text>
<rect x="595.0" y="352.50" width="14" height="14.21" fill="#ffffff"/>
<rect x="595.0" y="366.41" width="14" height="14.21" fill="#eeeeee"/>
<rect x="595.0" y="380.32" width="14" height="14.21" fill="#dddddd"/>
<rect x="595.0" y="394.23" width="14" height="14.21" fill="#cccccc"/>
<rect x="595.0" y="408.14" width="14" height="14.21" fill="#bbbbbb"/>
<rect x="595.0" y="422.05" width="14" height="14.21" fill="#aaaaaa"/>
<rect x="595.0" y="435.95" width="14" height="14.21" fill="#999999"/>
<rect x="595.0" y="449.86" width="14" height="14.21" fill="#808080"/>
<rect x="595.0" y="463.77" width="14" height="14.21" fill="#666666"/>
<rect x="595.0" y="477.68" width="14" height="14.21" fill="#444444"/>
<rect x="595.0" y="491.59" width="14" height="14.21" fill="#000000"/>
<line x1="597.0" y1="380.32" x2="609" y2="380.32" stroke="#fff" stroke-width="1.1"/>
<line x1="597.0" y1="394.23" x2="609" y2="394.23" stroke="#fff" stroke-width="1.1"/>
<line x1="597.0" y1="408.14" x2="609" y2="408.14" stroke="#fff" stroke-width="1.1"/>
<line x1="597.0" y1="422.05" x2="609" y2="422.05" stroke="#fff" stroke-width="1.1"/>
<line x1="597.0" y1="435.95" x2="609" y2="435.95" stroke="#fff" stroke-width="1.1"/>
<line x1="597.0" y1="449.86" x2="609" y2="449.86" stroke="#fff" stroke-width="1.1"/>
<line x1="597.0" y1="463.77" x2="609" y2="463.77" stroke="#fff" stroke-width="1.1"/>
<line x1="597.0" y1="477.68" x2="609" y2="477.68" stroke="#fff" stroke-width="1.1"/>
<line x1="597.0" y1="491.59" x2="609" y2="491.59" stroke="#fff" stroke-width="1.1"/>
<rect x="595.0" y="352.5" width="14" height="153.0" fill="none" stroke="#555" stroke-width="1"/>
<text x="577.2" y="364.90" text-anchor="end" font-size="11.1" stroke="#000" stroke-width="0.4" font-family="DejaVu Sans, Liberation Sans, sans-serif"><tspan letter-spacing="1.3">-</tspan>1</text>
<text x="577.2" y="378.86" text-anchor="end" font-size="11.1" stroke="#000" stroke-width="0.4" font-family="DejaVu Sans, Liberation Sans, sans-serif"><tspan letter-spacing="1.3">-</tspan>0.8</text>
<text x="577.2" y="392.82" text-anchor="end" font-size="11.1" stroke="#000" stroke-width="0.4" font-family="DejaVu Sans, Liberation Sans, sans-serif"><tspan letter-spacing="1.3">-</tspan>0.6</text>
<text x="577.2" y="406.78" text-anchor="end" font-size="11.1" stroke="#000" stroke-width="0.4" font-family="DejaVu Sans, Liberation Sans, sans-serif"><tspan letter-spacing="1.3">-</tspan>0.4</text>
<text x="577.2" y="420.74" text-anchor="end" font-size="11.1" stroke="#000" stroke-width="0.4" font-family="DejaVu Sans, Liberation Sans, sans-serif"><tspan letter-spacing="1.3">-</tspan>0.2</text>
<text x="577.2" y="434.70" text-anchor="end" font-size="11.1" stroke="#000" stroke-width="0.4" font-family="DejaVu Sans, Liberation Sans, sans-serif">0</text>
<text x="577.2" y="448.66" text-anchor="end" font-size="11.1" stroke="#000" stroke-width="0.4" font-family="DejaVu Sans, Liberation Sans, sans-serif">0.2</text>
<text x="577.2" y="462.62" text-anchor="end" font-size="11.1" stroke="#000" stroke-width="0.4" font-family="DejaVu Sans, Liberation Sans, sans-serif">0.4</text>
<text x="577.2" y="476.58" text-anchor="end" font-size="11.1" stroke="#000" stroke-width="0.4" font-family="DejaVu Sans, Liberation Sans, sans-serif">0.6</text>
<text x="577.2" y="490.54" text-anchor="end" font-size="11.1" stroke="#000" stroke-width="0.4" font-family="DejaVu Sans, Liberation Sans, sans-serif">0.8</text>
<text x="577.2" y="504.50" text-anchor="end" font-size="11.1" stroke="#000" stroke-width="0.4" font-family="DejaVu Sans, Liberation Sans, sans-serif">1</text>
</svg>
</body></html>
